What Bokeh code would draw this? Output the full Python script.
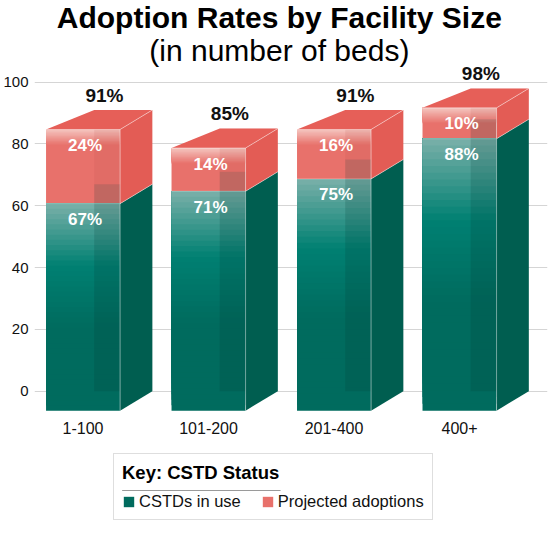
import numpy as np
from bokeh.plotting import figure
from bokeh.layouts import column
from bokeh.models import Range1d, FixedTicker, Legend, LegendItem, ColumnDataSource
from bokeh.core.properties import value
from bokeh.embed import file_html
from bokeh.resources import INLINE

# ---------------- data ----------------
categories = ["1-100", "101-200", "201-400", "400+"]
in_use = [67, 71, 75, 88]
projected = [24, 14, 16, 10]
totals = [91, 85, 91, 98]
y_ticks = [0, 20, 40, 60, 80, 100]
title_text = "Adoption Rates by Facility Size"
subtitle_text = "(in number of beds)"
legend_title = "Key: CSTD Status"
series = ["CSTDs in use", "Projected adoptions"]

# ---------------- style ----------------
FONT = "Liberation Sans"
GREEN = "#006b5e"
RED = "#e8716b"
SIDE_G = "#005e50"
SIDE_R = "#e35c55"
TOP_R = "#e65f58"
G_LIGHT = (122, 176, 169)
G_TEAL = (0, 128, 114)
G_DARK = (0, 107, 94)
R_LIGHT = (244, 198, 192)
R_BASE = (232, 113, 107)

DEPTH = 6.3      # vertical depth of the 3D box (data units)
HALF_W = 0.295   # half width of front face (category units)
BACK_L = 0.089   # back face left edge offset
BACK_R = 0.552   # back face right edge offset


def hexc(c):
    return "#%02x%02x%02x" % tuple(int(round(v)) for v in c)


def lerp(c1, c2, t):
    t = min(max(t, 0.0), 1.0)
    return hexc([a + (b - a) * t for a, b in zip(c1, c2)])


def green_at(f):
    if f < 0.3:
        return lerp(G_LIGHT, G_TEAL, f / 0.3)
    return lerp(G_TEAL, G_DARK, (f - 0.3) / 0.3)


xc = np.arange(len(categories), dtype=float)
v1 = np.array(in_use, dtype=float)
v2 = v1 + np.array(projected, dtype=float)
fl = xc - HALF_W
fr = xc + HALF_W
bl = xc + BACK_L
br = xc + BACK_R

p = figure(width=555, frame_height=411, title=None,
           x_range=Range1d(-0.387, 3.701), y_range=Range1d(-6.57, 126.44),
           output_backend="svg", toolbar_location=None,
           min_border_left=0, min_border_right=8, min_border_top=0, min_border_bottom=0,
           outline_line_color=None)

# grid / axes
p.xgrid.visible = False
p.ygrid.ticker = FixedTicker(ticks=y_ticks)
p.ygrid.grid_line_color = "#d5d5d5"
p.yaxis.ticker = FixedTicker(ticks=y_ticks)
p.xaxis.ticker = FixedTicker(ticks=list(range(len(categories))))
p.xaxis.major_label_overrides = {i: c for i, c in enumerate(categories)}
for ax in (p.xaxis, p.yaxis):
    ax.axis_line_color = None
    ax.major_tick_line_color = None
    ax.minor_tick_line_color = None
    ax.major_tick_out = 0
    ax.major_tick_in = 0
    ax.minor_tick_out = 0
    ax.minor_tick_in = 0
    ax.major_label_text_font = FONT
    ax.major_label_text_color = "#111111"
p.yaxis.major_label_text_font_size = "15px"
p.yaxis.major_label_standoff = 6
p.xaxis.major_label_text_font_size = "16px"
p.xaxis.major_label_standoff = 10

# front faces (base colours)
green_base = p.quad(left=fl, right=fr, bottom=-DEPTH, top=v1 - DEPTH,
                    fill_color=GREEN, line_color=None)
red_base = p.quad(left=fl, right=fr, bottom=v1 - DEPTH, top=v2 - DEPTH,
                  fill_color=RED, line_color=None)

# vertical shading of the front faces
gs = dict(left=[], right=[], bottom=[], top=[], color=[])
N = 40
for i in range(len(categories)):
    b, t = -DEPTH, v1[i] - DEPTH
    for k in range(1, N):
        yk = b + (t - b) * k / N
        gs["left"].append(fl[i]); gs["right"].append(fr[i])
        gs["bottom"].append(yk); gs["top"].append(t)
        gs["color"].append(green_at(1 - (k + 0.5) / N))
p.quad(left="left", right="right", bottom="bottom", top="top", fill_color="color",
       line_color=None, source=ColumnDataSource(gs))

rs = dict(left=[], right=[], bottom=[], top=[], color=[])
M = 12
GLOW = 5.0
for i in range(len(categories)):
    t = v2[i] - DEPTH
    for j in range(M):
        yj = t - GLOW + GLOW * j / M
        rs["left"].append(fl[i]); rs["right"].append(fr[i])
        rs["bottom"].append(yj); rs["top"].append(t)
        dist = GLOW - GLOW * (j + 0.5) / M
        rs["color"].append(lerp(R_LIGHT, R_BASE, dist / GLOW))
p.quad(left="left", right="right", bottom="bottom", top="top", fill_color="color",
       line_color=None, source=ColumnDataSource(rs))

# back faces seen through the translucent front
p.quad(left=bl, right=br, bottom=0, top=v1, fill_color="#00382f", fill_alpha=0.17, line_color=None)
p.quad(left=bl, right=br, bottom=v1, top=v2, fill_color="#b84843", fill_alpha=0.12, line_color=None)

# right side faces
p.patches(xs=[[fr[i], br[i], br[i], fr[i]] for i in range(len(xc))],
          ys=[[-DEPTH, 0, v1[i], v1[i] - DEPTH] for i in range(len(xc))],
          fill_color=SIDE_G, line_color=None)
p.patches(xs=[[fr[i], br[i], br[i], fr[i]] for i in range(len(xc))],
          ys=[[v1[i] - DEPTH, v1[i], v2[i], v2[i] - DEPTH] for i in range(len(xc))],
          fill_color=SIDE_R, line_color=None)
# top faces
p.patches(xs=[[fl[i], bl[i], br[i], fr[i]] for i in range(len(xc))],
          ys=[[v2[i] - DEPTH, v2[i], v2[i], v2[i] - DEPTH] for i in range(len(xc))],
          fill_color=TOP_R, line_color=None)

# highlight edges
p.segment(x0=fr, y0=np.full(len(xc), -DEPTH), x1=fr, y1=v2 - DEPTH,
          line_color="white", line_alpha=0.45, line_width=1)
p.segment(x0=fl, y0=v2 - DEPTH, x1=fr, y1=v2 - DEPTH,
          line_color="white", line_alpha=0.45, line_width=1)
p.segment(x0=fr, y0=v2 - DEPTH, x1=br, y1=v2,
          line_color="white", line_alpha=0.45, line_width=1)
p.segment(x0=fr, y0=v1 - DEPTH, x1=br, y1=v1,
          line_color="white", line_alpha=0.45, line_width=1)
p.segment(x0=fl, y0=v1 - DEPTH, x1=fr, y1=v1 - DEPTH,
          line_color="white", line_alpha=0.3, line_width=1)

# value labels
p.text(x=xc, y=v1 - DEPTH, text=[f"{v}%" for v in in_use], x_offset=2, y_offset=16,
       text_font=value(FONT), text_font_style="bold", text_font_size="17px",
       text_color="white", text_align="center", text_baseline="middle")
p.text(x=xc, y=v2 - DEPTH, text=[f"{v}%" for v in projected], x_offset=2, y_offset=16,
       text_font=value(FONT), text_font_style="bold", text_font_size="17px",
       text_color="white", text_align="center", text_baseline="middle")
p.text(x=xc + 0.17, y=v2, text=[f"{v}%" for v in totals], y_offset=-15,
       text_font=value(FONT), text_font_style="bold", text_font_size="19px",
       text_color="#111111", text_align="center", text_baseline="middle")

# titles
p.text(x=[1.564], y=[121.07], text=[title_text], text_font=value(FONT), text_font_style="bold",
       text_font_size="30px", text_align="center", text_baseline="middle",
       text_color="#000000")
p.text(x=[1.564], y=[110.39], text=[subtitle_text], text_font=value(FONT),
       text_font_size="30px", text_align="center", text_baseline="middle",
       text_color="#000000")

# ---------------- legend figure ----------------
lf = figure(width=555, height=97, title=None, x_range=Range1d(32, 547), y_range=Range1d(97, 0),
            x_axis_type=None, y_axis_type=None, output_backend="svg", toolbar_location=None,
            min_border_left=32, min_border_right=8, min_border_top=0, min_border_bottom=0,
            outline_line_color=None)
# key swatches (kept outside the visible range; used only for the legend glyphs)
lg = lf.quad(left=[0], right=[1], bottom=[0], top=[1], fill_color=GREEN, line_color=None)
lr = lf.quad(left=[0], right=[1], bottom=[0], top=[1], fill_color=RED, line_color=None)
lf.segment(x0=[120], y0=[54], x1=[279], y1=[54], line_color="#9a9a9a", line_width=1)
legend = Legend(items=[LegendItem(label=series[0], renderers=[lg]),
                       LegendItem(label=series[1], renderers=[lr])],
                location=(79, 13), orientation="horizontal",
                title=legend_title, title_text_font=FONT, title_text_font_style="bold",
                title_text_font_size="18.5px", title_text_color="#000000", title_standoff=8,
                label_text_font=FONT, label_text_font_size="16.5px", label_text_color="#111111",
                glyph_width=13, glyph_height=13, label_standoff=4, spacing=20, padding=8,
                border_line_color="#bdbdbd", border_line_width=1, background_fill_alpha=0)
lf.add_layout(legend)

layout = column(p, lf)
open("out.html", "w").write(file_html(layout, INLINE))
